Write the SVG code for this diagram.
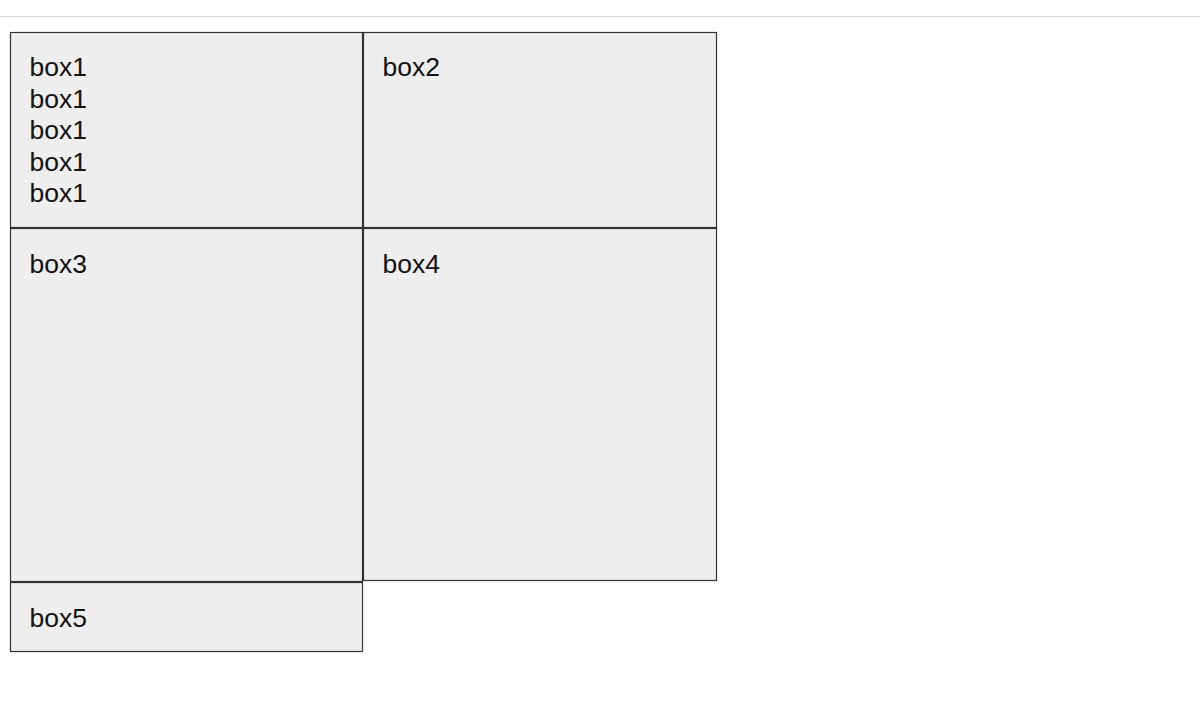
<svg xmlns="http://www.w3.org/2000/svg" width="1200" height="705" viewBox="0 0 1200 705">
<style>
.box{fill:#eeeeee;stroke:#333333;stroke-width:1.2}
.t{font-family:"Liberation Sans",Arial,sans-serif;font-size:26.5px;fill:#111111}
</style>
<rect width="1200" height="705" fill="#ffffff"/>
<line x1="0" y1="16.5" x2="1200" y2="16.5" stroke="#d8d8d8" stroke-width="1"/>
<g id="box1">
<rect class="box" x="10.5" y="32.5" width="352" height="195"/>
<text class="t" x="29.5" y="76">box1</text>
<text class="t" x="29.5" y="107.5">box1</text>
<text class="t" x="29.5" y="139">box1</text>
<text class="t" x="29.5" y="170.5">box1</text>
<text class="t" x="29.5" y="202">box1</text>
</g>
<g id="box2">
<rect class="box" x="363.5" y="32.5" width="353" height="195"/>
<text class="t" x="382.5" y="76">box2</text>
</g>
<g id="box3">
<rect class="box" x="10.5" y="228.5" width="352" height="353"/>
<text class="t" x="29.5" y="272.5">box3</text>
</g>
<g id="box4">
<rect class="box" x="363.5" y="228.5" width="353" height="352"/>
<text class="t" x="382.5" y="272.5">box4</text>
</g>
<g id="box5">
<rect class="box" x="10.5" y="582.5" width="352" height="69"/>
<text class="t" x="29.5" y="626.5">box5</text>
</g>
<g id="connectors"></g>
</svg>
